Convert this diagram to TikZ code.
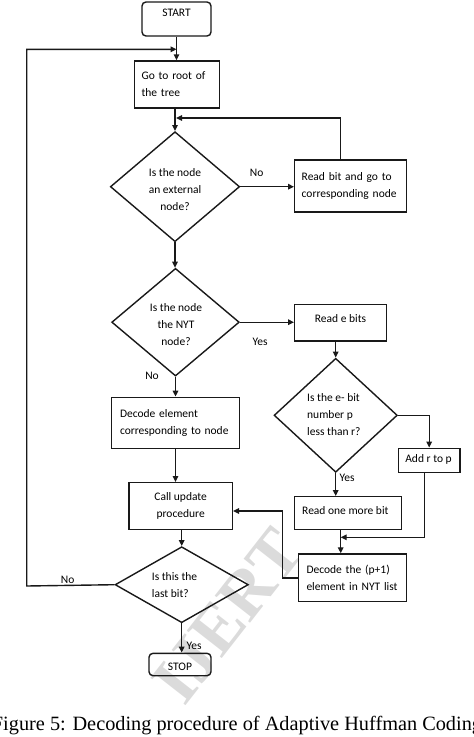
\documentclass[tikz,border=0pt]{standalone}
\usepackage{fontspec}
\setmainfont{Carlito}
\newfontfamily\capfont{Liberation Serif}
\usetikzlibrary{shapes.geometric,arrows.meta}
\begin{document}
\begin{tikzpicture}[x=1pt,y=-1pt,
  every node/.style={font=\fontsize{11.5}{17}\selectfont, text=black},
  line/.style={draw=black!90, line width=1.4pt},
  arr/.style={line, -{Triangle[length=6pt,width=5.5pt]}},
  box/.style={line, rectangle, inner sep=0pt},
  rbox/.style={line, rectangle, rounded corners=4pt, inner sep=0pt},
  dia/.style={line, diamond, inner sep=0pt, text width=0pt},
  lbl/.style={inner sep=0pt}
]
\useasboundingbox (0,0) rectangle (474,737);
\clip (0,0) rectangle (474,737);
% watermark
\node[lbl, rotate=52, text=black!14, font=\capfont\bfseries\fontsize{68}{68}\selectfont] (wm) at (228,616) {IJERT};

% nodes
\node[rbox, minimum width=69, minimum height=34] (start) at (176.5,19) {};
\node[lbl, anchor=base] (starttxt) at (176.5,16) {START};
\node[box, minimum width=85, minimum height=47, text width=71, align=left] (root) at (177,84.5) {Go to root of\\the tree};
\node[dia, minimum width=129.3, minimum height=110] (d1) at (175,186.7) {};
\node[lbl, align=center] (d1t) at (175,189.5) {Is the node\\an external\\node?};
\node[box, minimum width=112, minimum height=52, text width=98, align=left] (readbit) at (350.7,186) {Read bit and go to\\corresponding node};
\node[dia, minimum width=127.6, minimum height=107.7] (d2) at (175.5,322.2) {};
\node[lbl, align=center] (d2t) at (176,325) {Is the node\\the NYT\\node?};
\node[box, minimum width=92, minimum height=36.7] (reade) at (340.7,322.7) {};
\node[lbl] (readet) at (340.5,318.5) {Read e bits};
\node[box, minimum width=127.6, minimum height=51, text width=111, align=left] (decel) at (175.5,422.8) {Decode element\\corresponding to node};
\node[dia, minimum width=123.3, minimum height=114] (d3) at (335.7,415.3) {};
\node[lbl, anchor=west, align=left] (d3t) at (307,415) {Is the e- bit\\number p\\less than r?};
\node[box, minimum width=61.7, minimum height=24.4] (addr) at (429.2,460.5) {};
\node[lbl] (addrt) at (428.5,459.5) {Add r to p};
\node[box, minimum width=103.3, minimum height=46.6, align=center] (callup) at (180.7,506) {Call update\\procedure};
\node[box, minimum width=107, minimum height=32.6] (readone) at (348.2,513) {};
\node[lbl, anchor=west] (readonet) at (302,510.5) {Read one more bit};
\node[box, minimum width=108.4, minimum height=47.7, text width=92, align=left] (decp) at (352.5,577.8) {Decode the (p+1)\\element in NYT list};
\node[dia, minimum width=133.3, minimum height=76] (d4) at (181.7,584.7) {};
\node[lbl, anchor=west, align=left] (d4t) at (151.7,585.5) {Is this the\\last bit?};
\node[rbox, minimum width=62, minimum height=22.4] (stop) at (180,664.5) {};
\node[lbl, anchor=base] (stoptxt) at (180,670.5) {STOP};

% labels
\node[lbl] (no1) at (256.7,173) {No};
\node[lbl] (yes2) at (260,341.7) {Yes};
\node[lbl] (no2) at (152,376) {No};
\node[lbl] (yes3) at (347,477.7) {Yes};
\node[lbl] (yes4) at (194,645.7) {Yes};
\node[lbl] (no4) at (67.7,580) {No};

% junction coordinates
\coordinate (j0) at (176.5,49.3);
\coordinate (j1) at (176,118);
\coordinate (j2) at (340.7,537.3);
\coordinate (j3) at (282.7,511);
\coordinate (j4) at (26.7,586);

% connectors
\draw[arr] (start.south) -- (start.south |- root.north);
\draw[arr] (d4.west) -- (j4) |- (j0);
\draw[arr] (root.south -| d1.north) -- (d1.north);
\draw[arr] ([xshift=-10pt]readbit.north) |- (j1);
\draw[arr] (d1.east) -- (d1.east -| readbit.west);
\draw[arr] (d1.south) -- (d1.south |- d2.north);
\draw[arr] (d2.east) -- (d2.east -| reade.west);
\draw[arr] (d2.south) -- (d2.south |- decel.north);
\draw[arr] (reade.south -| d3.north) -- (d3.north);
\draw[arr] (d3.east) -| (addr.north);
\draw[arr] (d3.south) -- (d3.south |- readone.north);
\draw[arr] ([xshift=-5pt]addr.south) |- (j2);
\draw[arr] (readone.south -| j2) -- (decp.north -| j2);
\draw[arr] (decp.west) -| (j3) -- (callup.east |- j3);
\draw[arr] (decel.south) -- (decel.south |- callup.north);
\draw[arr] (callup.south -| d4.north) -- (d4.north);
\draw[arr] (d4.south) -- (d4.south |- stop.north);

% caption
\node[lbl, anchor=base, text=black, font=\capfont\fontsize{20.3}{22}\selectfont] (cap) at (237,730) {Figure 5: Decoding procedure of Adaptive Huffman Coding};
\end{tikzpicture}
\end{document}
